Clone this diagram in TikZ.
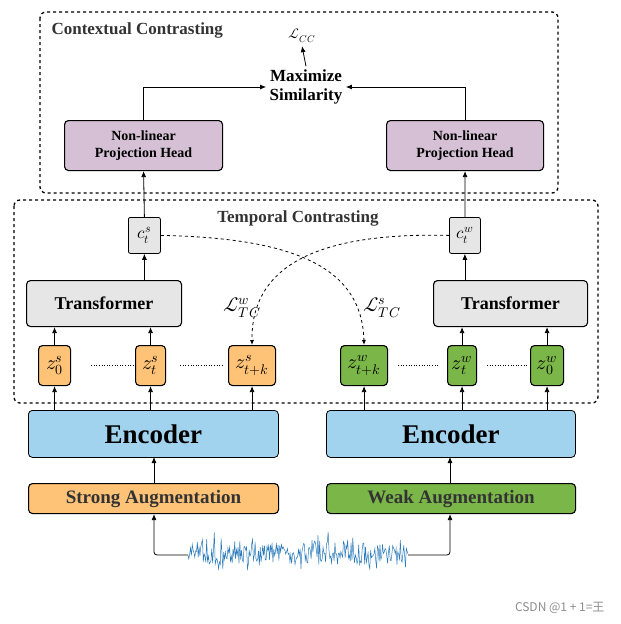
\documentclass[tikz,border=0pt]{standalone}
\usepackage{fontspec}
\usepackage{unicode-math}
\setmathfont{Latin Modern Math}
\setmainfont{Liberation Serif}
\newfontfamily\cjk{Noto Sans CJK SC}
\usetikzlibrary{arrows.meta}
\definecolor{lav}{HTML}{D5C0D6}
\definecolor{encb}{HTML}{A2D3EE}
\definecolor{orng}{HTML}{FFC378}
\definecolor{grn}{HTML}{7AB648}
\definecolor{gry}{HTML}{E6E6E6}
\definecolor{wave}{HTML}{2B7BBA}
\newcommand{\zsz}{\fontsize{20}{22}\selectfont}
\begin{document}
\begin{tikzpicture}[x=1pt,y=-1pt,
  box/.style={draw=black,line width=1.1pt,rounded corners=4pt,inner sep=0pt,anchor=north west,align=center},
  arr/.style={-{Latex[length=6pt,width=5pt]},line width=0.8pt},
  dashbox/.style={draw,dashed,line width=1.3pt,rounded corners=6pt},
  dots/.style={dotted,line width=0.6pt}]
\useasboundingbox (0,0) rectangle (621,624);
\draw[dashbox] (40,12) rectangle (558,193);
\draw[dashbox] (14,200) rectangle (598,403);
\node[text=black!80,font=\bfseries\fontsize{17}{19}\selectfont,anchor=west] at (48,30) {Contextual Contrasting};
\node[text=black!80,font=\bfseries\fontsize{17}{19}\selectfont] at (298,218) {Temporal Contrasting};
\node (lcc) at (302,36) {\fontsize{14}{16}\selectfont$\mathcal{L}_{CC}$};
\node (ms) [font=\bfseries\fontsize{17}{19}\selectfont,align=center] at (306,87) {Maximize\\Similarity};
\draw[arr] (ms.north) -- (lcc.south);
\node (pl) [box,fill=lav,minimum width=158pt,minimum height=50pt,font=\bfseries\fontsize{14}{17}\selectfont] at (64,120) {Non-linear\\Projection Head};
\node (pr) [box,fill=lav,minimum width=157pt,minimum height=50pt,font=\bfseries\fontsize{14}{17}\selectfont] at (386,120) {Non-linear\\Projection Head};
\draw[arr] (pl.north) |- (ms.west);
\draw[arr] (pr.north) |- (ms.east);
\node (cs) [box,fill=gry,line width=0.8pt,rounded corners=2pt,minimum width=32pt,minimum height=36pt,font=\fontsize{17}{19}\selectfont] at (128,217) {$c_t^s$};
\node (cw) [box,fill=gry,line width=0.8pt,rounded corners=2pt,minimum width=31pt,minimum height=36pt,font=\fontsize{17}{19}\selectfont] at (449,217) {$c_t^w$};
\draw[arr] (cs.north) -- (pl.south);
\draw[arr] (cw.north) -- (pr.south);
\node (tl) [box,fill=gry,minimum width=155pt,minimum height=46pt,font=\bfseries\fontsize{18}{20}\selectfont] at (26,280) {Transformer};
\node (tr) [box,fill=gry,minimum width=154pt,minimum height=46pt,font=\bfseries\fontsize{18}{20}\selectfont] at (433,280) {Transformer};
\draw[arr] (tl.north -| cs.south) -- (cs.south);
\draw[arr] (tr.north -| cw.south) -- (cw.south);
\foreach \n/\x/\w/\c/\t in {a/38/32/orng/{z_0^s}, b/135/30/orng/{z_t^s}, c/228/47/orng/{z_{t+k}^s},
  d/340/47/grn/{z_{t+k}^w}, e/447/29/grn/{z_t^w}, f/530/33/grn/{z_0^w}}{
  \node (z\n) [box,fill=\c,minimum width=\w pt,minimum height=40pt,font=\zsz] at (\x,345) {$\t$};
}
\draw[dots] (za.east)++(20,0) -- ++(44,0);
\draw[dots] (zb.east)++(14,0) -- ++(44,0);
\draw[dots] (zd.east)++(10,0) -- ++(40,0);
\draw[dots] (ze.east)++(10,0) -- ++(40,0);
\draw[arr] (za.north) -- (za.north |- tl.south);
\draw[arr] (zb.north) -- (zb.north |- tl.south);
\draw[arr] (ze.north) -- (ze.north |- tr.south);
\draw[arr] (zf.north) -- (zf.north |- tr.south);
\node[font=\zsz] at (242,308) {$\mathcal{L}_{TC}^{w}$};
\node[font=\zsz] at (382,308) {$\mathcal{L}_{TC}^{s}$};
\draw[dashed,line width=0.8pt,-{Latex[length=5pt,width=4pt]}] (cs.east) .. controls (300,238) and (362,270) .. (zd.north);
\draw[dashed,line width=0.8pt,-{Latex[length=5pt,width=4pt]}] (cw.west) .. controls (310,232) and (251,270) .. (zc.north);
\node (el) [box,fill=encb,line width=0.8pt,minimum width=250pt,minimum height=47pt,font=\bfseries\fontsize{27}{29}\selectfont] at (28,410) {Encoder};
\node (er) [box,fill=encb,line width=0.8pt,minimum width=249pt,minimum height=47pt,font=\bfseries\fontsize{27}{29}\selectfont] at (326,410) {Encoder};
\foreach \n in {a,b,c}{\draw[arr] (el.north -| z\n.south) -- (z\n.south);}
\foreach \n in {d,e,f}{\draw[arr] (er.north -| z\n.south) -- (z\n.south);}
\node (al) [box,fill=orng,minimum width=250pt,minimum height=30pt,text=black!80,font=\bfseries\fontsize{19}{21}\selectfont] at (28,483) {Strong Augmentation};
\node (ar) [box,fill=grn,minimum width=249pt,minimum height=30pt,text=black!80,font=\bfseries\fontsize{19}{21}\selectfont] at (326,483) {Weak Augmentation};
\draw[arr] (al.north -| 154,0) -- (154,457);
\draw[arr] (ar.north -| 450,0) -- (450,457);
\pgfmathsetseed{7}
\draw[wave,line width=0.5pt] plot[domain=188:408,samples=260] (\x,{553+ 12*rand + 16*rand*rand*rand});
\coordinate (wl) at (188,555);
\coordinate (wr) at (408,555);
\draw[arr,rounded corners=3pt] (wl) -| (al.south -| 154,0);
\draw[arr,rounded corners=3pt] (wr) -| (ar.south -| 450,0);
\node[text=black!45,font=\cjk\fontsize{12}{13}\selectfont,anchor=east] at (608,608) {CSDN @1 + 1=王};
\end{tikzpicture}
\end{document}
